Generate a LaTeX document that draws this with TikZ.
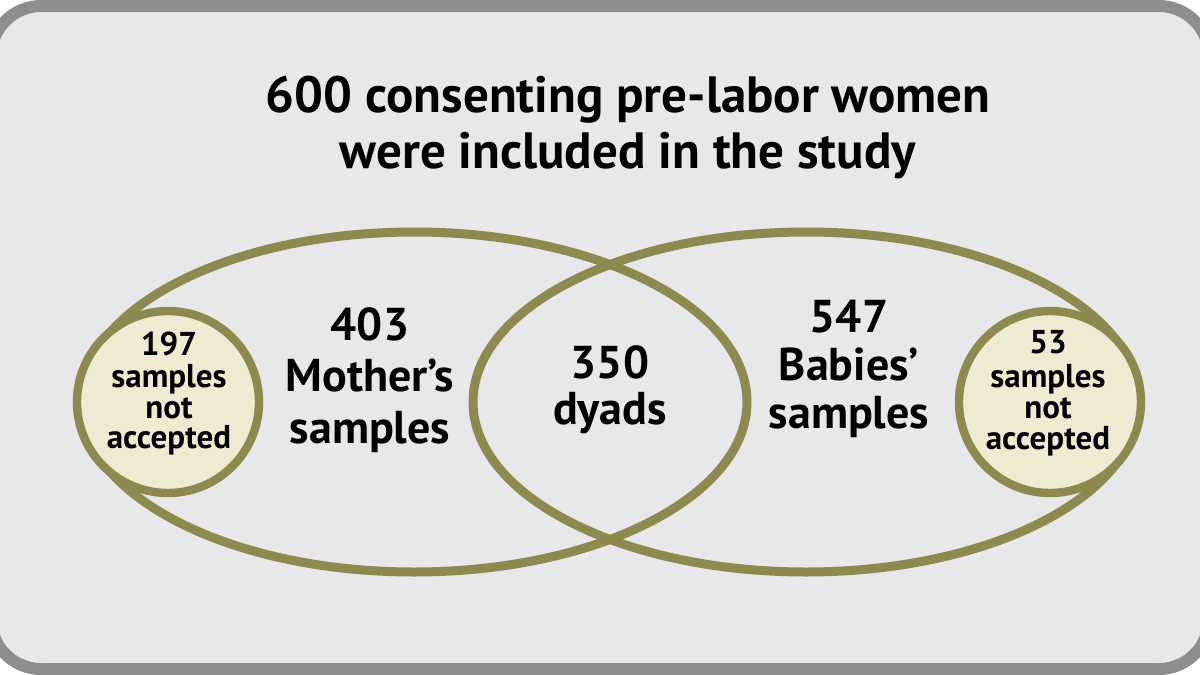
\documentclass[tikz,border=0pt]{standalone}
\usepackage{fontspec}
\setmainfont{PT Sans}
\usetikzlibrary{shapes.geometric}
\definecolor{olivec}{RGB}{142,137,78}
\definecolor{creamc}{RGB}{238,235,210}
\definecolor{bgc}{RGB}{232,232,234}
\definecolor{framec}{RGB}{142,142,144}
\begin{document}
\begin{tikzpicture}[x=0.5pt,y=-0.5pt,
  bigell/.style={ellipse,draw=olivec,line width=4.5pt,minimum width=333pt,minimum height=170pt,inner sep=0pt,outer sep=0pt},
  smallc/.style={circle,draw=olivec,fill=creamc,line width=4.2pt,minimum size=91pt,inner sep=0pt,outer sep=0pt},
  titletxt/.style={anchor=base,inner sep=0pt,font=\fontsize{25.5}{28}\selectfont\bfseries},
  midtxt/.style={anchor=base,inner sep=0pt,font=\fontsize{23}{25}\selectfont\bfseries},
  smalltxt/.style={anchor=base,inner sep=0pt,font=\fontsize{16.5}{17}\selectfont\bfseries}]
\useasboundingbox (0,0) rectangle (1200,675);
\clip (0,0) rectangle (1200,675);
\fill[white] (0,0) rectangle (1200,675);
\draw[draw=framec,fill=bgc,line width=6pt,rounded corners=25pt] (-9,6) rectangle (1209,669);
% title
\node[titletxt] (t1) at (628,112) {600 consenting pre-labor women};
\node[titletxt] (t2) at (628,168) {were included in the study};
% ellipses
\node[bigell] (mom) at (414,402) {};
\node[bigell] (baby) at (806,402) {};
% small circles
\node[smallc] (rejm) at (168,402) {};
\node[smallc] (rejb) at (1050,402) {};
% mother's samples
\node[midtxt] (m1) at (370,340) {403};
\node[midtxt] (m2) at (370,391) {Mother’s};
\node[midtxt] (m3) at (370,443) {samples};
% babies' samples
\node[midtxt] (b1) at (849,332) {547};
\node[midtxt] (b2) at (849,380) {Babies’};
\node[midtxt] (b3) at (849,428) {samples};
% dyads
\node[midtxt] (d1) at (610,378) {350};
\node[midtxt] (d2) at (610,424) {dyads};
% not accepted (left)
\node[smalltxt] (l1) at (169,355) {197};
\node[smalltxt] (l2) at (169,387) {samples};
\node[smalltxt] (l3) at (169,418) {not};
\node[smalltxt] (l4) at (169,448) {accepted};
% not accepted (right)
\node[smalltxt] (r1) at (1048,353) {53};
\node[smalltxt] (r2) at (1048,387) {samples};
\node[smalltxt] (r3) at (1048,418) {not};
\node[smalltxt] (r4) at (1048,449) {accepted};
\end{tikzpicture}
\end{document}
